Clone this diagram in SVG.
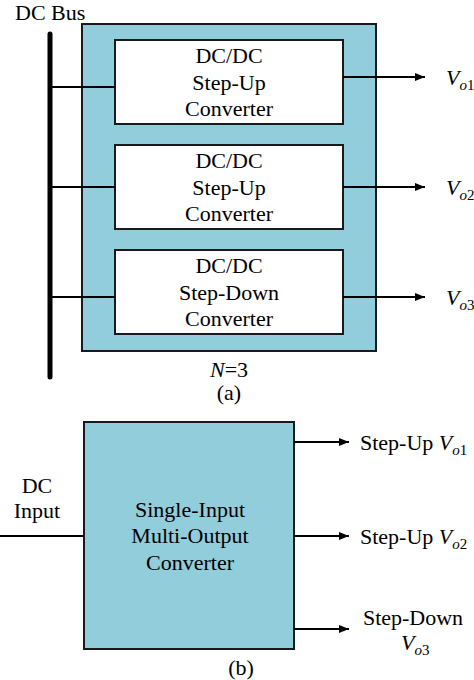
<svg xmlns="http://www.w3.org/2000/svg" width="474" height="680" viewBox="0 0 474 680" font-family="Liberation Serif, Times New Roman, serif">
<style>
text{font-family:'Liberation Serif','DejaVu Serif',serif;font-size:22px;fill:#000}
.c{text-anchor:middle}
.blue{fill:#92CDDC;stroke:#1a1a1a;stroke-width:2}
.white{fill:#fff;stroke:#1a1a1a;stroke-width:2}
.ln{stroke:#000;stroke-width:2;fill:none}
.i{font-style:italic}
.s{font-size:15px}
</style>
<defs>
<marker id="ah" viewBox="0 0 10 8" refX="10" refY="4" markerWidth="10" markerHeight="8" markerUnits="userSpaceOnUse" orient="auto">
<path d="M0,0 L10,4 L0,8 Z" fill="#000"/>
</marker>
</defs>
<rect width="474" height="680" fill="#fff"/>
<g id="part-a">
<g id="outer-box"><rect class="blue" x="82" y="24" width="294" height="327"/></g>
<g id="bus"><line x1="50" y1="34" x2="50" y2="377" stroke="#000" stroke-width="5" stroke-linecap="round"/><text x="15" y="20" font-size="20">DC Bus</text></g>
<g id="conv1"><rect class="white" x="115" y="40" width="228" height="84"/>
<text class="c" x="229" y="63">DC/DC</text><text class="c" x="229" y="90">Step-Up</text><text class="c" x="229" y="116">Converter</text></g>
<g id="conv2"><rect class="white" x="115" y="145" width="228" height="84"/>
<text class="c" x="229" y="168">DC/DC</text><text class="c" x="229" y="195">Step-Up</text><text class="c" x="229" y="221">Converter</text></g>
<g id="conv3"><rect class="white" x="115" y="250" width="228" height="84"/>
<text class="c" x="229" y="273">DC/DC</text><text class="c" x="229" y="300">Step-Down</text><text class="c" x="229" y="326">Converter</text></g>
<g id="vo1"><text x="446" y="85"><tspan class="i">V</tspan><tspan class="s i" dy="5">o</tspan><tspan class="s">1</tspan></text></g>
<g id="vo2"><text x="446" y="195"><tspan class="i">V</tspan><tspan class="s i" dy="5">o</tspan><tspan class="s">2</tspan></text></g>
<g id="vo3"><text x="446" y="305"><tspan class="i">V</tspan><tspan class="s i" dy="5">o</tspan><tspan class="s">3</tspan></text></g>
<text class="c" x="229" y="377"><tspan class="i">N</tspan>=3</text>
<text class="c" x="229" y="400" font-size="16">(a)</text>
</g>
<g id="part-b">
<g id="mimo"><rect class="blue" x="84" y="422" width="210" height="227"/>
<text class="c" x="190" y="517">Single-Input</text><text class="c" x="190" y="543">Multi-Output</text><text class="c" x="190" y="570">Converter</text></g>
<g id="dc-input"><text class="c" x="37" y="493">DC</text><text class="c" x="37" y="518">Input</text></g>
<g id="out1"><text x="360" y="450">Step-Up <tspan class="i">V</tspan><tspan class="s i" dy="5">o</tspan><tspan class="s">1</tspan></text></g>
<g id="out2"><text x="360" y="544">Step-Up <tspan class="i">V</tspan><tspan class="s i" dy="5">o</tspan><tspan class="s">2</tspan></text></g>
<g id="out3"><text class="c" x="413" y="625">Step-Down</text><text x="401" y="650"><tspan class="i">V</tspan><tspan class="s i" dy="5">o</tspan><tspan class="s">3</tspan></text></g>
<text class="c" x="241" y="675" font-size="16">(b)</text>
</g>
<g id="connectors">
<line class="ln" x1="50" y1="87" x2="115" y2="87"/>
<line class="ln" x1="50" y1="187" x2="115" y2="187"/>
<line class="ln" x1="50" y1="297" x2="115" y2="297"/>
<line class="ln" x1="343" y1="77" x2="425" y2="77" marker-end="url(#ah)"/>
<line class="ln" x1="343" y1="187" x2="425" y2="187" marker-end="url(#ah)"/>
<line class="ln" x1="343" y1="297" x2="425" y2="297" marker-end="url(#ah)"/>
<line class="ln" x1="0" y1="536" x2="84" y2="536"/>
<line class="ln" x1="294" y1="442" x2="349" y2="442" marker-end="url(#ah)"/>
<line class="ln" x1="294" y1="536" x2="349" y2="536" marker-end="url(#ah)"/>
<line class="ln" x1="294" y1="629" x2="349" y2="629" marker-end="url(#ah)"/>
</g>
</svg>
